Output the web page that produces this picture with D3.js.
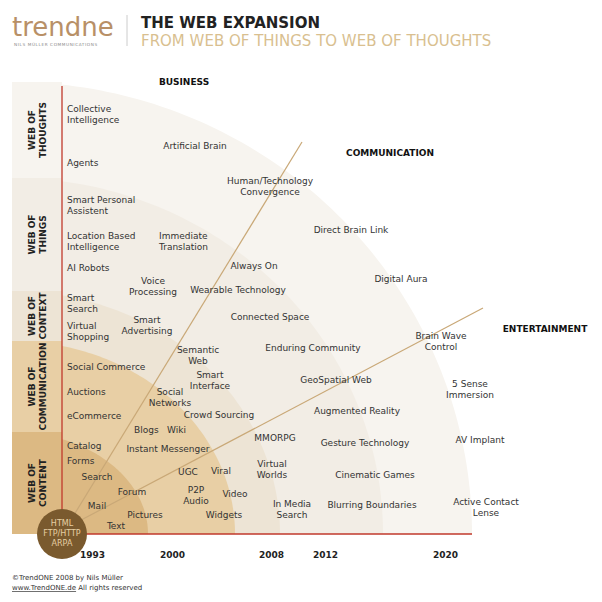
<!DOCTYPE html><html><head><meta charset="utf-8">
<script src="https://cdn.jsdelivr.net/npm/d3@7"></script>
<style>body{margin:0;background:#fff}text{font-family:"DejaVu Sans",sans-serif}</style></head><body>
<svg id="c" width="602" height="602"></svg>
<script>
const eras = ["WEB OF CONTENT","WEB OF COMMUNICATION","WEB OF CONTEXT","WEB OF THINGS","WEB OF THOUGHTS"];
const eraRx = [136,223,268,371,460];
const eraRy = [102,193,243,356,452];
const eraColors = ["#dcb983","#e8cfa5","#ede4d5","#f2ede5","#f7f4ef"];
const years = [1993,2000,2008,2012,2020];
const yearX = [92,172,271,325,445];
const directions = ["BUSINESS","COMMUNICATION","ENTERTAINMENT"];
const labels = [
 ["Collective|Intelligence",67,112,"start"],["Artificial Brain",195,149,"middle"],["Agents",67,166,"start"],
 ["Human/Technology|Convergence",270,184,"middle"],["Smart Personal|Assistent",67,203,"start"],
 ["Location Based|Intelligence",67,239,"start"],["Immediate|Translation",159,239,"start"],["Direct Brain Link",351,233,"middle"],
 ["AI Robots",67,271,"start"],["Always On",254,269,"middle"],["Voice|Processing",153,284,"middle"],["Wearable Technology",238,293,"middle"],
 ["Digital Aura",401,282,"middle"],["Smart|Search",67,301,"start"],["Smart|Advertising",147,323,"middle"],["Connected Space",270,320,"middle"],
 ["Virtual|Shopping",67,329,"start"],["Brain Wave|Control",441,339,"middle"],["Semantic|Web",198,353,"middle"],["Enduring Community",313,351,"middle"],
 ["Social Commerce",67,370,"start"],["Smart|Interface",210,378,"middle"],["GeoSpatial Web",336,383,"middle"],["5 Sense|Immersion",470,387,"middle"],
 ["Auctions",67,395,"start"],["Social|Networks",170,395,"middle"],["Augmented Reality",357,414,"middle"],["eCommerce",67,419,"start"],
 ["Crowd Sourcing",219,418,"middle"],["Blogs",134,433,"start"],["Wiki",167,433,"start"],["AV Implant",480,443,"middle"],
 ["Catalog",67,449,"start"],["Instant Messenger",168,452,"middle"],["MMORPG",275,441,"middle"],["Gesture Technology",365,446,"middle"],
 ["Forms",67,464,"start"],["Virtual|Worlds",272,467,"middle"],["Search",97,480,"middle"],["UGC",188,475,"middle"],["Viral",221,474,"middle"],
 ["Cinematic Games",375,478,"middle"],["Forum",132,495,"middle"],["P2P|Audio",196,493,"middle"],["Video",235,497,"middle"],
 ["Mail",97,509,"middle"],["In Media|Search",292,507,"middle"],["Blurring Boundaries",372,508,"middle"],["Active Contact|Lense",486,505,"middle"],
 ["Pictures",145,518,"middle"],["Widgets",224,518,"middle"],["Text",116,529,"middle"]
];
const svg = d3.select("#c");
const cx = 12, cy = 534;
const sx = d3.scaleLinear().domain(years).range(yearX);
for (let i = eras.length-1; i >= 0; i--) {
  const rx = eraRx[i], ry = eraRy[i];
  const pts = d3.range(0,91).map(a=>[cx+rx*Math.cos(a*Math.PI/180), cy-ry*Math.sin(a*Math.PI/180)]);
  svg.append("path").attr("d", d3.line()([[cx,cy],...pts,[cx,cy]])).attr("fill", eraColors[i]);
}
const y0 = [cy, ...eraRy.map(r=>cy-r)];
eras.forEach((e,i)=>{
  svg.append("rect").attr("x",12).attr("width",50).attr("y",y0[i+1]).attr("height",y0[i]-y0[i+1]).attr("fill",eraColors[i]);
  const words = e.split(" "); const l1 = words.slice(0,2).join(" "), l2 = words.slice(2).join(" ");
  const g = svg.append("g").attr("transform",`translate(37,${(y0[i]+y0[i+1])/2}) rotate(-90)`);
  g.append("text").attr("text-anchor","middle").attr("y",-2).attr("font-size",9).attr("font-weight","bold").attr("fill","#222").text(l1);
  g.append("text").attr("text-anchor","middle").attr("y",9).attr("font-size",9).attr("font-weight","bold").attr("fill","#222").text(l2);
});
svg.append("line").attr("x1",62).attr("x2",62).attr("y1",86).attr("y2",534).attr("stroke","#c0392b").attr("stroke-width",1.3);
svg.append("line").attr("x1",62).attr("x2",472).attr("y1",534).attr("y2",534).attr("stroke","#c0392b").attr("stroke-width",1.3);
const ax = svg.append("g").attr("transform","translate(0,549)").call(d3.axisBottom(sx).tickValues(years).tickFormat(d3.format("d")).tickSize(0));
ax.select(".domain").remove();
ax.selectAll("text").attr("font-size",9).attr("font-weight","bold").attr("fill","#222").attr("font-family","DejaVu Sans");
svg.append("line").attr("x1",66).attr("y1",528).attr("x2",302).attr("y2",142).attr("stroke","#c9a877").attr("stroke-width",1.2);
svg.append("line").attr("x1",66).attr("y1",528).attr("x2",483).attr("y2",308).attr("stroke","#c9a877").attr("stroke-width",1.2);
[[184,85],[390,156],[545,332]].forEach((p,i)=>svg.append("text").attr("x",p[0]).attr("y",p[1]).attr("text-anchor","middle").attr("font-size",9).attr("font-weight","bold").attr("fill","#111").text(directions[i]));
svg.append("circle").attr("cx",62).attr("cy",534).attr("r",25).attr("fill","#7a5a2e");
["HTML","FTP/HTTP","ARPA"].forEach((t,i)=>svg.append("text").attr("x",62).attr("y",526+i*10).attr("text-anchor","middle").attr("font-size",8).attr("fill","#e6cfa3").text(t));
labels.forEach(([t,x,y,a])=>{
  const tx = svg.append("text").attr("x",x).attr("y",y).attr("text-anchor",a).attr("font-size",9).attr("fill","#333");
  t.split("|").forEach((s,i)=>tx.append("tspan").attr("x",x).attr("dy",i?10.5:0).text(s));
});
svg.append("text").attr("x",12).attr("y",36).attr("font-size",26).attr("fill","#b89067").attr("font-family","Lato").text("trendne");
svg.append("text").attr("x",14).attr("y",46).attr("font-size",4.2).attr("fill","#888").attr("letter-spacing",0.6).text("NILS MÜLLER COMMUNICATIONS");
svg.append("line").attr("x1",127).attr("x2",127).attr("y1",15).attr("y2",46).attr("stroke","#ccc");
svg.append("text").attr("x",141).attr("y",28).attr("font-size",15).attr("font-weight",600).attr("fill","#222").attr("font-family","Liberation Sans").text("THE WEB EXPANSION");
svg.append("text").attr("x",141).attr("y",46).attr("font-size",15).attr("fill","#d9bf90").attr("font-family","Liberation Sans").text("FROM WEB OF THINGS TO WEB OF THOUGHTS");
svg.append("text").attr("x",12).attr("y",580).attr("font-size",7).attr("fill","#333").text("©TrendONE 2008 by Nils Müller");
const f = svg.append("text").attr("x",12).attr("y",590).attr("font-size",7).attr("fill","#333");
f.append("tspan").attr("text-decoration","underline").text("www.TrendONE.de");
f.append("tspan").text(" All rights reserved");
</script></body></html>
